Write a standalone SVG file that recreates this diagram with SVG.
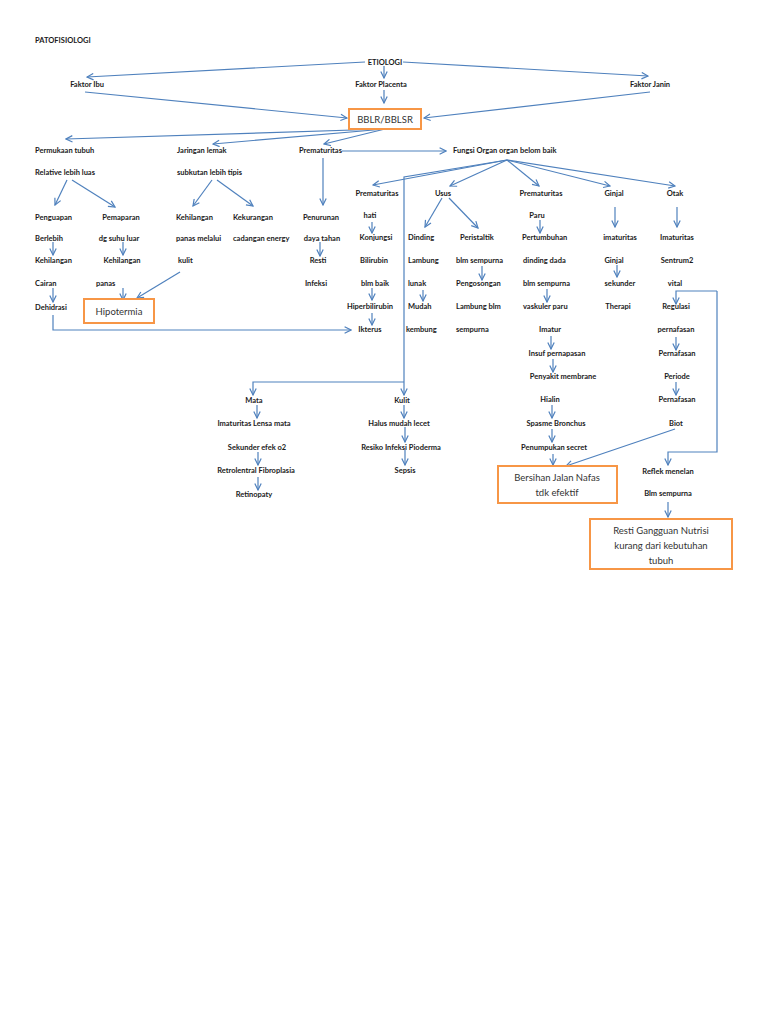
<svg xmlns="http://www.w3.org/2000/svg" width="768" height="1024" viewBox="0 0 768 1024">
<style>
.t{font-family:Lato,"Liberation Sans",sans-serif;font-size:7.5px;font-weight:bold;fill:#1a1a1a}
.m{text-anchor:middle}
.b{font-family:Lato,"Liberation Sans",sans-serif;font-size:9.5px;fill:#333;text-anchor:middle}
.box{fill:#fff;stroke:#F79646;stroke-width:2}
.c path{fill:none;stroke:#4F81BD;stroke-width:1.2}
.c .a{marker-end:url(#ar)}
</style>
<defs>
<marker id="ar" viewBox="0 0 10 10" refX="9" refY="5" markerWidth="8" markerHeight="8" markerUnits="userSpaceOnUse" orient="auto">
<path d="M1,1 L9,5 L1,9" fill="none" stroke="#4F81BD" stroke-width="1.5"/>
</marker>
</defs>
<rect width="768" height="1024" fill="#fff"/>

<g id="connectors" class="c">
<path class="a" d="M365,62 L87,77"/>
<path class="a" d="M403,62 L648,76"/>
<path class="a" d="M384,66 L384,78"/>
<path class="a" d="M384,90 L384,103"/>
<path class="a" d="M85,92 L347,118"/>
<path class="a" d="M650,92 L424,118"/>
<path class="a" d="M385,129 L66,139"/>
<path class="a" d="M385,129 L213,144"/>
<path class="a" d="M385,129 L324,144"/>
<path class="a" d="M342,151 L446,151"/>
<path class="a" d="M507,160 L373,185"/>
<path d="M507,160 L404,177 L404,382"/>
<path class="a" d="M404,382 L253,382 L253,395"/>
<path class="a" d="M404,382 L404,395"/>
<path class="a" d="M507,160 L450,186"/>
<path class="a" d="M507,160 L539,186"/>
<path class="a" d="M507,160 L610,186"/>
<path class="a" d="M507,160 L675,186"/>
<path class="a" d="M67,180 L55,205"/>
<path class="a" d="M72,180 L115,207"/>
<path class="a" d="M53,242 L53,255"/>
<path class="a" d="M123,242 L123,255"/>
<path class="a" d="M53,288 L53,302"/>
<path class="a" d="M123,288 L123,300"/>
<path class="a" d="M180,272 L137,298"/>
<path class="a" d="M212,180 L193,206"/>
<path class="a" d="M217,180 L253,206"/>
<path class="a" d="M323,158 L323,205"/>
<path class="a" d="M320,242 L320,256"/>
<path class="a" d="M53,315 L53,330 L351,330"/>
<path class="a" d="M372,222 L372,233"/>
<path class="a" d="M372,288 L372,300"/>
<path class="a" d="M372,313 L372,325"/>
<path class="a" d="M442,198 L425,227"/>
<path class="a" d="M449,198 L478,228"/>
<path class="a" d="M423,290 L423,301"/>
<path class="a" d="M482,266 L482,280"/>
<path class="a" d="M540,220 L540,233"/>
<path class="a" d="M547,289 L547,302"/>
<path class="a" d="M551,336 L551,349"/>
<path class="a" d="M553,359 L553,372"/>
<path class="a" d="M552,405 L552,418"/>
<path class="a" d="M552,429 L552,442"/>
<path class="a" d="M553,454 L553,465"/>
<path class="a" d="M675,429 L566,466"/>
<path class="a" d="M615,207 L615,227"/>
<path class="a" d="M677,207 L677,227"/>
<path class="a" d="M617,265 L617,277"/>
<path class="a" d="M717,291 L676,291 L676,304"/>
<path class="a" d="M717,291 L717,452 L668,452 L668,465"/>
<path class="a" d="M676,337 L676,350"/>
<path class="a" d="M676,382 L676,395"/>
<path class="a" d="M668,502 L668,517"/>
<path class="a" d="M257,405 L257,418"/>
<path class="a" d="M258,452 L258,465"/>
<path class="a" d="M258,477 L258,490"/>
<path class="a" d="M404,405 L404,418"/>
<path class="a" d="M405,427 L405,442"/>
<path class="a" d="M405,450 L405,465"/>
</g>

<g id="title"><text class="t" x="35" y="43">PATOFISIOLOGI</text></g>
<g id="etiologi"><text class="t m" x="385" y="65">ETIOLOGI</text></g>
<g id="faktor-ibu"><text class="t m" x="87" y="87">Faktor Ibu</text></g>
<g id="faktor-placenta"><text class="t m" x="381" y="87">Faktor Placenta</text></g>
<g id="faktor-janin"><text class="t m" x="650" y="87">Faktor Janin</text></g>
<g id="bblr"><rect class="box" x="349" y="109" width="72" height="20"/><text class="b" x="385" y="122.5">BBLR/BBLSR</text></g>

<g id="permukaan">
<text class="t" x="35" y="153">Permukaan tubuh</text>
<text class="t" x="35" y="175">Relative lebih luas</text>
</g>
<g id="jaringan">
<text class="t" x="177" y="153">Jaringan lemak</text>
<text class="t" x="177" y="175">subkutan lebih tipis</text>
</g>
<g id="prematuritas"><text class="t" x="299" y="153">Prematuritas</text></g>
<g id="fungsi"><text class="t" x="453" y="153">Fungsi Organ organ belom baik</text></g>

<g id="penguapan">
<text class="t" x="35" y="220">Penguapan</text>
<text class="t" x="35" y="241">Berlebih</text>
</g>
<g id="kehilangan-cairan">
<text class="t" x="35" y="263">Kehilangan</text>
<text class="t" x="35" y="286">Cairan</text>
</g>
<g id="dehidrasi"><text class="t" x="35" y="310">Dehidrasi</text></g>

<g id="pemaparan">
<text class="t m" x="121" y="220">Pemaparan</text>
<text class="t m" x="119" y="241">dg suhu luar</text>
</g>
<g id="kehilangan-panas">
<text class="t m" x="122" y="263">Kehilangan</text>
<text class="t" x="96" y="286">panas</text>
</g>
<g id="hipotermia"><rect class="box" x="84" y="299" width="70" height="24"/><text class="b" x="119" y="314.5">Hipotermia</text></g>

<g id="kehilangan-panas-kulit">
<text class="t" x="176" y="220">Kehilangan</text>
<text class="t" x="176" y="241">panas melalui</text>
<text class="t" x="178" y="263">kulit</text>
</g>
<g id="kekurangan">
<text class="t" x="233" y="220">Kekurangan</text>
<text class="t" x="233" y="241">cadangan energy</text>
</g>

<g id="penurunan">
<text class="t m" x="321" y="220">Penurunan</text>
<text class="t m" x="322" y="241">daya tahan</text>
</g>
<g id="resti-infeksi">
<text class="t m" x="318" y="263">Resti</text>
<text class="t m" x="316" y="286">Infeksi</text>
</g>

<g id="prematuritas-hati">
<text class="t m" x="377" y="196">Prematuritas</text>
<text class="t m" x="370" y="218">hati</text>
</g>
<g id="konjungsi">
<text class="t m" x="376" y="240">Konjungsi</text>
<text class="t m" x="374" y="263">Bilirubin</text>
<text class="t m" x="375" y="286">blm baik</text>
</g>
<g id="hiperbilirubin"><text class="t m" x="370" y="309">Hiperbilirubin</text></g>
<g id="ikterus"><text class="t m" x="370" y="332">Ikterus</text></g>

<g id="usus"><text class="t m" x="443" y="196">Usus</text></g>
<g id="dinding-lambung">
<text class="t" x="408" y="240">Dinding</text>
<text class="t" x="408" y="263">Lambung</text>
<text class="t" x="408" y="286">lunak</text>
</g>
<g id="mudah-kembung">
<text class="t" x="408" y="309">Mudah</text>
<text class="t" x="406" y="332">kembung</text>
</g>
<g id="peristaltik">
<text class="t" x="460" y="240">Peristaltik</text>
<text class="t" x="456" y="263">blm sempurna</text>
</g>
<g id="pengosongan">
<text class="t" x="456" y="286">Pengosongan</text>
<text class="t" x="456" y="309">Lambung blm</text>
<text class="t" x="456" y="332">sempurna</text>
</g>

<g id="prematuritas-paru">
<text class="t m" x="541" y="196">Prematuritas</text>
<text class="t m" x="537" y="218">Paru</text>
</g>
<g id="pertumbuhan">
<text class="t" x="522" y="240">Pertumbuhan</text>
<text class="t" x="523" y="263">dinding dada</text>
<text class="t" x="523" y="286">blm sempurna</text>
</g>
<g id="vaskuler">
<text class="t" x="523" y="309">vaskuler paru</text>
<text class="t m" x="550" y="332">Imatur</text>
</g>
<g id="insuf"><text class="t m" x="557" y="356">Insuf pernapasan</text></g>
<g id="penyakit-membrane">
<text class="t m" x="563" y="379">Penyakit membrane</text>
<text class="t m" x="550" y="402">Hialin</text>
</g>
<g id="spasme"><text class="t m" x="556" y="426">Spasme Bronchus</text></g>
<g id="penumpukan"><text class="t m" x="554" y="450">Penumpukan secret</text></g>
<g id="bersihan"><rect class="box" x="498" y="466" width="119" height="37"/>
<text class="b" x="557" y="480.5">Bersihan Jalan Nafas</text>
<text class="b" x="557" y="495.5">tdk efektif</text></g>

<g id="ginjal"><text class="t m" x="614" y="196">Ginjal</text></g>
<g id="imaturitas-ginjal">
<text class="t m" x="620" y="240">imaturitas</text>
<text class="t m" x="614" y="263">Ginjal</text>
</g>
<g id="sekunder-therapi">
<text class="t m" x="620" y="286">sekunder</text>
<text class="t m" x="618" y="309">Therapi</text>
</g>

<g id="otak"><text class="t m" x="675" y="196">Otak</text></g>
<g id="imaturitas-sentrum">
<text class="t m" x="677" y="240">Imaturitas</text>
<text class="t m" x="677" y="263">Sentrum2</text>
<text class="t m" x="675" y="286">vital</text>
</g>
<g id="regulasi">
<text class="t m" x="676" y="309">Regulasi</text>
<text class="t m" x="676" y="332">pernafasan</text>
</g>
<g id="pernafasan-periode">
<text class="t m" x="677" y="356">Pernafasan</text>
<text class="t m" x="677" y="379">Periode</text>
</g>
<g id="pernafasan-biot">
<text class="t m" x="677" y="402">Pernafasan</text>
<text class="t m" x="676" y="426">Biot</text>
</g>
<g id="reflek">
<text class="t m" x="668" y="474">Reflek menelan</text>
<text class="t m" x="668" y="496">Blm sempurna</text>
</g>
<g id="resti-nutrisi"><rect class="box" x="590" y="519" width="142" height="50"/>
<text class="b" x="661" y="533.5">Resti Gangguan Nutrisi</text>
<text class="b" x="661" y="548.5">kurang dari kebutuhan</text>
<text class="b" x="661" y="563.5">tubuh</text></g>

<g id="mata"><text class="t m" x="254" y="403">Mata</text></g>
<g id="imaturitas-lensa">
<text class="t m" x="254" y="426">Imaturitas Lensa mata</text>
<text class="t m" x="257" y="450">Sekunder efek o2</text>
</g>
<g id="retrolentral"><text class="t m" x="256" y="473">Retrolentral Fibroplasia</text></g>
<g id="retinopaty"><text class="t m" x="254" y="497">Retinopaty</text></g>

<g id="kulit"><text class="t m" x="402" y="403">Kulit</text></g>
<g id="halus"><text class="t m" x="399" y="426">Halus mudah lecet</text></g>
<g id="resiko"><text class="t m" x="401" y="450">Resiko Infeksi Pioderma</text></g>
<g id="sepsis"><text class="t m" x="405" y="473">Sepsis</text></g>
</svg>
